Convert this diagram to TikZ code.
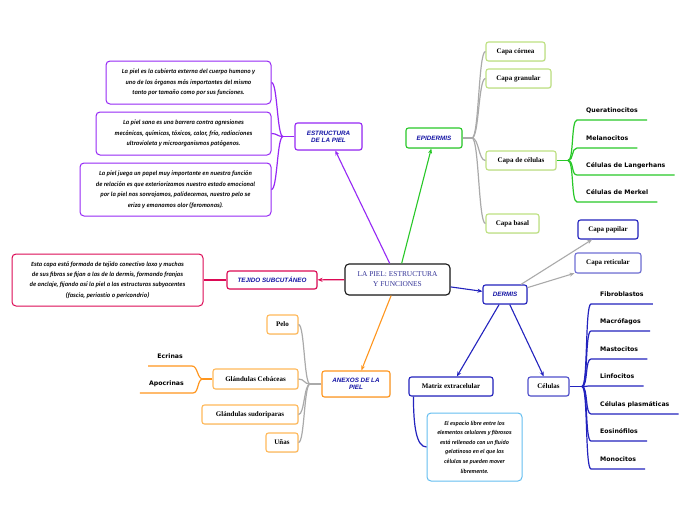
\documentclass[tikz,border=0pt]{standalone}
\usepackage{fontspec}
\setmainfont{Liberation Serif}
\newfontfamily\fuentetema{Liberation Sans}
\newfontfamily\fuentehoja{DejaVu Sans}
\newfontfamily\fuentenota{Fira Sans}[ItalicFont={Fira Sans Medium Italic}]
\usetikzlibrary{arrows.meta,shadows}

\definecolor{morado}{RGB}{150,40,245}
\definecolor{carmin}{RGB}{220,10,85}
\definecolor{verde}{RGB}{40,200,40}
\definecolor{verdeclaro}{RGB}{190,225,130}
\definecolor{azul}{RGB}{35,35,190}
\definecolor{azulclaro}{RGB}{100,190,240}
\definecolor{naranja}{RGB}{255,150,30}
\definecolor{naranjaclaro}{RGB}{255,185,90}
\definecolor{gris}{RGB}{170,170,170}
\definecolor{azultexto}{RGB}{20,20,165}
\definecolor{azulcentral}{RGB}{50,50,150}

\begin{document}
\begin{tikzpicture}[
    x=1pt, y=-1pt,
    >={Stealth[length=5pt,width=4pt]},
    caja/.style={draw, line width=1.1pt, rounded corners=2.5pt, fill=white, inner sep=1pt,
      minimum height=19pt, drop shadow={shadow xshift=0.7pt, shadow yshift=-0.7pt, opacity=0.2},
      font=\bfseries\fontsize{7}{8}\selectfont},
    tema/.style={caja, font=\fuentetema\bfseries\itshape\fontsize{6.3}{7.2}\selectfont,
      text=azultexto, align=center},
    nota/.style={draw, line width=1pt, rounded corners=4pt, fill=white, inner sep=1pt,
      align=center, font=\fuentenota\itshape\fontsize{5.9}{10.5}\selectfont},
    hoja/.style={inner xsep=9pt, inner ysep=7pt, text depth=0pt,
      font=\fuentehoja\bfseries\fontsize{6.2}{7}\selectfont},
    rama/.style={line width=1.2pt},
    flecha/.style={->, line width=1.1pt}
  ]

    % --- Fondo y marco ---
    \fill[white] (0,0) rectangle (697,520);
    \useasboundingbox (0,0) rectangle (697,520);

    % --- Nodo central ---
    \node[caja, draw=gray!20!black, rounded corners=4pt, minimum width=105pt, minimum height=31pt,
      font=\fontsize{7.4}{10}\selectfont, text=azulcentral, align=center] (piel) at (397.5,279.5)
      {LA PIEL: ESTRUCTURA\\Y FUNCIONES};

    % --- Temas principales ---
    \node[tema, draw=morado, minimum width=67pt, minimum height=27pt] (estr) at (328.5,136.5) {ESTRUCTURA\\DE LA PIEL};
    \node[tema, draw=carmin, minimum width=90pt, minimum height=18pt] (tej) at (272,280) {TEJIDO SUBCUTÁNEO};
    \node[tema, draw=verde, minimum width=56pt, minimum height=20pt] (epi) at (434,138) {EPIDERMIS};
    \node[tema, draw=azul, minimum width=44pt] (der) at (505,294.5) {DERMIS};
    \node[tema, draw=naranja, minimum width=68pt, minimum height=26pt] (anex) at (356,384) {ANEXOS DE LA\\PIEL};

    \draw[flecha, morado] (piel) -- (estr);
    \draw[flecha, carmin] (piel) -- (tej);
    \draw[flecha, verde] (piel) -- (epi);
    \draw[flecha, azul] (piel) -- (der);
    \draw[flecha, naranja] (piel) -- (anex);

    % --- Estructura de la piel ---
    \node[nota, draw=morado, minimum width=165pt, minimum height=43pt] (n1) at (188.5,82.5)
      {La piel es la cubierta externa del cuerpo humano y\\uno de los órganos más importantes del mismo\\tanto por tamaño como por sus funciones.};
    \node[nota, draw=morado, minimum width=175pt, minimum height=43pt] (n2) at (183.5,133.5)
      {La piel sana es una barrera contra agresiones\\mecánicas, químicas, tóxicos, calor, frío, radiaciones\\ultravioleta y microorganismos patógenos.};
    \node[nota, draw=morado, minimum width=191pt, minimum height=53pt] (n3) at (175.5,189.5)
      {La piel juega un papel muy importante en nuestra función\\de relación es que exteriorizamos nuestro estado emocional\\por la piel nos sonrojamos, palidecemos, nuestro pelo se\\eriza y emanamos olor (feromonas).};
    \coordinate (vestr) at (283,136.5);
    \draw[rama, morado] (estr.west) -- (vestr);
    \foreach \n in {n1,n2,n3}
      \draw[rama, morado] (vestr) .. controls +(-6,0) and +(6,0) .. (\n.east);

    % --- Tejido subcutáneo ---
    \node[nota, draw=carmin, minimum width=191pt, minimum height=52pt, font=\fuentenota\itshape\fontsize{5.9}{10.3}\selectfont] (ntej) at (107.5,280)
      {Esta capa está formada de tejido conectivo laxo y muchas\\de sus fibras se fijan a las de la dermis, formando franjas\\de anclaje, fijando así la piel a las estructuras subyacentes\\(fascia, periostio o pericondrio)};
    \draw[rama, carmin] (tej.west) -- (ntej.east);

    % --- Epidermis ---
    \node[caja, draw=verdeclaro, minimum width=59pt] (cor) at (515.5,51.5) {Capa córnea};
    \node[caja, draw=verdeclaro, minimum width=65pt] (gra) at (518.5,78.5) {Capa granular};
    \node[caja, draw=verdeclaro, minimum width=70pt] (cel) at (521,160.5) {Capa de células};
    \node[caja, draw=verdeclaro, minimum width=53pt] (bas) at (512.5,223.5) {Capa basal};
    \coordinate (vepi) at (472,138);
    \draw[rama, gris] (epi.east) -- (vepi);
    \foreach \n in {cor,gra,cel,bas}
      \draw[rama, gris] (vepi) .. controls +(7,0) and +(-7,0) .. (\n.west);

    % Tipos de células de la epidermis
    \node[hoja, anchor=south west] (qu) at (577,120) {Queratinocitos};
    \node[hoja, anchor=south west] (me) at (577,148) {Melanocitos};
    \node[hoja, anchor=south west] (la) at (577,175) {Células de Langerhans};
    \node[hoja, anchor=south west] (mk) at (577,202) {Células de Merkel};
    \coordinate (vcel) at (568,160.5);
    \draw[rama, verde] (cel.east) -- (vcel);
    \foreach \n in {qu,me,la,mk}
      \draw[rama, verde] (vcel) .. controls +(6,0) and +(-6,0) .. (\n.south west) -- (\n.south east);

    % --- Dermis ---
    \node[caja, draw=azul] (pap) at (608,229.5) [minimum width=60pt] {Capa papilar};
    \node[caja, draw=azul!65] (ret) at (608,263) [minimum width=66pt, minimum height=20pt] {Capa reticular};
    \node[caja, draw=azul] (mat) at (451,386.5) [minimum width=84pt] {Matriz extracelular};
    \node[caja, draw=azul!80] (cls) at (548.5,386.5) [minimum width=41pt] {Células};
    \draw[flecha, gris] (der) -- (pap);
    \draw[flecha, gris] (der) -- (ret);
    \draw[flecha, azul] (der) -- (mat);
    \draw[flecha, azul] (der) -- (cls);

    \node[nota, draw=azulclaro, minimum width=95pt, minimum height=68pt,
      font=\fuentenota\itshape\fontsize{5.5}{9.6}\selectfont] (nmat) at (474.5,447)
      {El espacio libre entre los\\elementos celulares y fibrosos\\está rellenado con un fluido\\gelatinoso en el que las\\células se pueden mover\\libremente.};
    \draw[rama, azul] ([xshift=5pt]mat.south west) .. controls +(0,30) and +(-10,0) .. (nmat.west);

    % Tipos de células de la dermis
    \node[hoja, anchor=south west] (fi) at (591,304) {Fibroblastos};
    \node[hoja, anchor=south west] (ma) at (591,331) {Macrófagos};
    \node[hoja, anchor=south west] (mt) at (591,359) {Mastocitos};
    \node[hoja, anchor=south west] (li) at (591,386) {Linfocitos};
    \node[hoja, anchor=south west] (pl) at (591,414) {Células plasmáticas};
    \node[hoja, anchor=south west] (eo) at (591,441) {Eosinófilos};
    \node[hoja, anchor=south west] (mo) at (591,469) {Monocitos};
    \coordinate (vcls) at (582,386.5);
    \draw[rama, azul] (cls.east) -- (vcls);
    \foreach \n in {fi,ma,mt,li,pl,eo,mo}
      \draw[rama, azul] (vcls) .. controls +(6,0) and +(-6,0) .. (\n.south west) -- (\n.south east);

    % --- Anexos de la piel ---
    \node[caja, draw=naranjaclaro, minimum width=31pt] (pel) at (282.5,324.5) {Pelo};
    \node[caja, draw=naranjaclaro, minimum width=85pt, minimum height=20pt] (gce) at (255.5,379) {Glándulas Cebáceas};
    \node[caja, draw=naranjaclaro, minimum width=96pt] (gsu) at (250,414.5) {Glándulas sudoriparas};
    \node[caja, draw=naranjaclaro, minimum width=32pt] (una) at (282,442.5) {Uñas};
    \coordinate (vanex) at (310,384);
    \draw[rama, gris] (anex.west) -- (vanex);
    \foreach \n in {pel,gce,gsu,una}
      \draw[rama, gris] (vanex) .. controls +(-6,0) and +(6,0) .. (\n.east);

    % Tipos de glándulas
    \node[hoja, anchor=south east] (ecr) at (192,366) {Ecrinas};
    \node[hoja, anchor=south east] (apo) at (193,393) {Apocrinas};
    \coordinate (vgce) at (203,379);
    \draw[rama, naranja] (gce.west) -- (vgce);
    \foreach \n in {ecr,apo}
      \draw[rama, naranja] (vgce) .. controls +(-6,0) and +(6,0) .. (\n.south east) -- (\n.south west);

\end{tikzpicture}
\end{document}
